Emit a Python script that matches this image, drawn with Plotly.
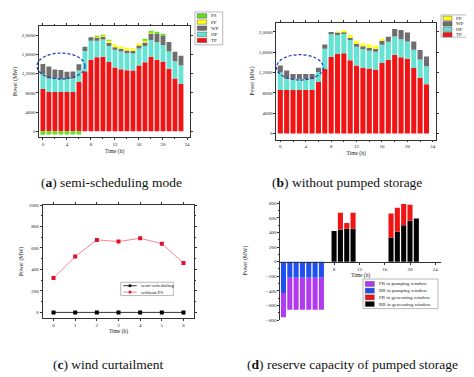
import plotly.graph_objects as go

W, H = 474, 377
OFF = 8  # page body margin in the browser
FW, FH = W - OFF, H - OFF

# ---------------- data ----------------
hours = list(range(24))

# (a) semi-scheduling mode (MW)
a_TP = [8800, 8200, 8200, 8200, 8200, 8200, 10250, 12500, 14900, 15400, 15500, 14400,
        13300, 12900, 12700, 12650, 13700, 14350, 15450, 14900, 14500, 13000, 11000, 9850]
a_HP = [3000, 2800, 2800, 2700, 2700, 2800, 2400, 4200, 3950, 3450, 3600, 3350,
        3650, 3700, 3550, 3550, 3550, 3400, 3550, 3600, 3450, 3600, 3550, 3850]
a_WP = [2200, 2500, 1850, 1850, 1500, 1450, 1300, 900, 700, 700, 600, 600,
        550, 550, 550, 550, 650, 700, 1400, 1800, 2000, 2000, 2000, 2000]
a_PP = [0, 0, 0, 0, 0, 0, 0, 0, 0, 150, 200, 500,
        600, 550, 600, 600, 400, 500, 200, 0, 0, 0, 0, 0]
a_PS = [-700, -650, -650, -650, -650, -650, -650, 0, 0, 150, 150, 150,
        0, 0, 0, 0, 0, 100, 300, 350, 200, 0, 0, 0]

# (b) without pumped storage (MW)
b_TP = [8600, 8600, 8600, 8600, 8600, 8600, 10150, 12700, 15050, 15700, 15800, 14400,
        13400, 12900, 12800, 12600, 13900, 14500, 15500, 15000, 14700, 12900, 11000, 9700]
b_HP = [3400, 2200, 2100, 2100, 2100, 2100, 1950, 4000, 4500, 3700, 3800, 4000,
        3700, 3700, 3500, 3500, 3550, 3550, 3570, 3550, 3400, 3590, 3550, 3550]
b_WP = [1400, 1600, 1000, 1000, 1000, 1000, 850, 800, 450, 500, 400, 400,
        500, 600, 600, 600, 800, 1000, 1500, 1800, 1800, 1600, 1900, 1900]
b_PP = [0, 0, 0, 0, 0, 0, 0, 0, 0, 100, 300, 600,
        600, 500, 600, 600, 400, 0, 0, 0, 0, 0, 0, 0]

power_ticks = [0, 4000, 8000, 12000, 16000, 20000]
power_tick_text = ["0", "4000", "8000", "1,2000", "1,6000", "2,0000"]
hour_ticks = [0, 4, 8, 12, 16, 20, 24]

# (c) wind curtailment (MW)
c_time = [0, 1, 2, 3, 4, 5, 6]
c_semi = [0, 0, 0, 0, 0, 0, 0]
c_without = [320, 520, 675, 660, 690, 640, 460]

# (d) reserve capacity of pumped storage (MW)
d_pump_hours = [0, 1, 2, 3, 4, 5, 6]
d_pump_RR = [-430, -220, -220, -220, -220, -220, -220]
d_pump_FR = [-330, -440, -440, -440, -440, -440, -440]
d_gen_hours = [8, 9, 10, 11, 17, 18, 19, 20, 21]
d_gen_RR = [420, 440, 450, 450, 330, 410, 500, 560, 590]
d_gen_FR = [0, 230, 80, 220, 330, 330, 290, 220, 0]

# ---------------- styles ----------------
C_TP, C_HP, C_WP, C_PP, C_PS = "#F01414", "#66E3D3", "#6E6E6E", "#FFFF1A", "#66DD22"
C_FRP, C_RRP, C_FRG, C_RRG = "#B23AEE", "#2050F0", "#F01414", "#000000"
SERIF = "Liberation Serif"


def px(x):
    return (x - OFF) / FW


def py(y):
    return 1 - (y - OFF) / FH


fig = go.Figure()


def bar(x, y, name, color, xa, ya):
    fig.add_trace(go.Bar(x=x, y=y, name=name, marker=dict(color=color, line=dict(width=0)),
                         xaxis=xa, yaxis=ya, showlegend=False))


for vals, nm, col in [(a_TP, "TP", C_TP), (a_HP, "HP", C_HP), (a_WP, "WP", C_WP),
                      (a_PP, "PP", C_PP), (a_PS, "PS", C_PS)]:
    bar(hours, vals, nm, col, "x", "y")

for vals, nm, col in [(b_TP, "TP", C_TP), (b_HP, "HP", C_HP), (b_WP, "WP", C_WP),
                      (b_PP, "PP", C_PP)]:
    bar(hours, vals, nm, col, "x2", "y2")

fig.add_trace(go.Scatter(x=c_time, y=c_semi, mode="lines+markers", name="semi-scheduling",
                         line=dict(color="#000000", width=0.8),
                         marker=dict(symbol="square", size=4, color="#000000"),
                         xaxis="x3", yaxis="y3", showlegend=False))
fig.add_trace(go.Scatter(x=c_time, y=c_without, mode="lines+markers", name="without PS",
                         line=dict(color="#F06878", width=0.8),
                         marker=dict(symbol="square", size=4, color="#E0102A"),
                         xaxis="x3", yaxis="y3", showlegend=False))

bar(d_pump_hours, d_pump_RR, "RR in pumping window", C_RRP, "x4", "y4")
bar(d_pump_hours, d_pump_FR, "FR in pumping window", C_FRP, "x4", "y4")
bar(d_gen_hours, d_gen_RR, "RR in generating window", C_RRG, "x4", "y4")
bar(d_gen_hours, d_gen_FR, "FR in generating window", C_FRG, "x4", "y4")

tickfont = dict(family=SERIF, size=5, color="#222")
titlefont = dict(family=SERIF, size=5.5, color="#222")


def boxaxis(domain, rng, **kw):
    d = dict(domain=domain, range=rng, showline=True, linecolor="#333", linewidth=0.8,
             mirror="ticks", ticks="outside", ticklen=2, tickwidth=0.6, tickcolor="#333",
             showgrid=False, zeroline=False, tickfont=tickfont)
    d.update(kw)
    return d


yd0 = -800
yd1 = 830
d_top, d_bot = 201.7, 322.3
zero_px = d_top + (d_bot - d_top) * (yd1 - 0) / (yd1 - yd0)

fig.update_layout(
    width=FW, height=FH, margin=dict(l=0, r=0, t=0, b=0),
    paper_bgcolor="white", plot_bgcolor="white",
    barmode="relative", bargap=0.2, showlegend=False,
    xaxis=boxaxis([px(39.3), px(190)], [-0.6, 24.5], tickvals=hour_ticks, anchor="y",
                  title=dict(text="Time (h)", font=titlefont, standoff=2),
                  minor=dict(ticks="outside", ticklen=1.2, dtick=2, tickcolor="#333")),
    yaxis=boxaxis([py(137), py(24)], [-1230, 21950], tickvals=power_ticks,
                  ticktext=power_tick_text, anchor="x",
                  title=dict(text="Power (MW)", font=titlefont, standoff=3)),
    xaxis2=boxaxis([px(276.3), px(436)], [-0.63, 24.5], tickvals=hour_ticks, anchor="y2",
                   title=dict(text="Time (h)", font=titlefont, standoff=2),
                   minor=dict(ticks="outside", ticklen=1.2, dtick=2, tickcolor="#333")),
    yaxis2=boxaxis([py(139.3), py(20.7)], [-1160, 21840], tickvals=power_ticks,
                   ticktext=power_tick_text, anchor="x2",
                   title=dict(text="Power (MW)", font=titlefont, standoff=3)),
    xaxis3=boxaxis([px(42.7), px(194.3)], [-0.5, 6.5], tickvals=c_time, anchor="y3",
                   title=dict(text="Time (h)", font=titlefont, standoff=2)),
    yaxis3=boxaxis([py(320), py(205.7)], [-50, 1000], tickvals=[0, 200, 400, 600, 800, 1000],
                   anchor="x3", title=dict(text="Power (MW)", font=titlefont, standoff=4),
                   minor=dict(ticks="outside", ticklen=1.2, dtick=100, tickcolor="#333")),
    xaxis4=dict(domain=[px(280.3), px(441)], range=[-0.5, 24.9], anchor="free",
                position=py(zero_px), showline=True, linecolor="#333", linewidth=0.8,
                ticks="outside", ticklen=2, tickwidth=0.6, tickcolor="#333",
                tickvals=[8, 12, 16, 20, 24], showgrid=False, zeroline=False,
                tickfont=tickfont, title=dict(text="Time (h)", font=titlefont, standoff=1)),
    yaxis4=dict(domain=[py(d_bot), py(d_top)], range=[yd0, yd1], anchor="x4",
                showline=True, linecolor="#333", linewidth=0.8, ticks="outside", ticklen=2,
                tickwidth=0.6, tickcolor="#333", showgrid=False, zeroline=False,
                tickvals=[-800, -600, -400, -200, 0, 200, 400, 600, 800], tickfont=tickfont,
                minor=dict(ticks="outside", ticklen=1.2, dtick=100, tickcolor="#333"),
                title=dict(text="Power (MW)", font=titlefont, standoff=18)),
)

shapes = []
annots = []

# dashed ellipses
for (x0, x1, y0, y1) in [(37, 85, 51.7, 78), (276.5, 323.3, 53.3, 79)]:
    shapes.append(dict(type="circle", xref="paper", yref="paper", x0=px(x0), x1=px(x1),
                       y0=py(y1), y1=py(y0), layer="above",
                       line=dict(color="#1A3DB8", width=1.2, dash="3px,2px")))


def legend_box(x0, x1, y0, y1):
    shapes.append(dict(type="rect", xref="paper", yref="paper", x0=px(x0), x1=px(x1),
                       y0=py(y1), y1=py(y0), line=dict(color="#888", width=0.6),
                       fillcolor="white"))


def swatch_legend(labels, colors, xs0, xs1, xt, rows, sh):
    for lab, col, ry in zip(labels, colors, rows):
        shapes.append(dict(type="rect", xref="paper", yref="paper", x0=px(xs0), x1=px(xs1),
                           y0=py(ry + sh / 2), y1=py(ry - sh / 2), fillcolor=col,
                           line=dict(color="#333", width=0.4)))
        annots.append(dict(text=lab, x=px(xt), y=py(ry), xref="paper", yref="paper",
                           xanchor="left", yanchor="middle", showarrow=False,
                           font=dict(family=SERIF, size=5, color="#222")))


# legend (a)
legend_box(195, 222.7, 10, 43.3)
swatch_legend(["PS", "PP", "WP", "HP", "TP"], [C_PS, C_PP, C_WP, C_HP, C_TP],
              197.3, 206.7, 208.5, [14, 20.2, 26.4, 32.6, 38.8], 4.4)
# legend (b)
legend_box(441, 467, 13, 35.5)
swatch_legend(["PP", "WP", "HP", "TP"], [C_PP, C_WP, C_HP, C_TP],
              443, 452, 454, [16.5, 22, 27.5, 33], 4.4)
# legend (c)
legend_box(120.7, 173.3, 284, 297.5)
for lab, lc, mc, ry in [("semi-scheduling", "#000000", "#000000", 287.5),
                        ("without PS", "#F06878", "#E0102A", 294)]:
    shapes.append(dict(type="line", xref="paper", yref="paper", x0=px(123.3), x1=px(136.7),
                       y0=py(ry), y1=py(ry), line=dict(color=lc, width=0.8)))
    shapes.append(dict(type="rect", xref="paper", yref="paper", x0=px(128.7), x1=px(131.3),
                       y0=py(ry + 1.3), y1=py(ry - 1.3), fillcolor=mc, line=dict(width=0)))
    annots.append(dict(text=lab, x=px(138.5), y=py(ry), xref="paper", yref="paper",
                       xanchor="left", yanchor="middle", showarrow=False,
                       font=dict(family=SERIF, size=5, color="#222")))
# legend (d)
legend_box(363, 438, 280.7, 310.7)
swatch_legend(["FR in pumping window", "RR in pumping window", "FR in generating window",
               "RR in generating window"], [C_FRP, C_RRP, C_FRG, C_RRG],
              365.3, 374.3, 377, [285.7, 292.5, 299.3, 306.1], 5)

# captions
for txt, xc, yc in [("(<b>a</b>) semi-scheduling mode", 111, 183),
                    ("(<b>b</b>) without pumped storage", 347, 183),
                    ("(<b>c</b>) wind curtailment", 108, 367),
                    ("(<b>d</b>) reserve capacity of pumped storage", 352, 367)]:
    annots.append(dict(text=txt, x=px(xc), y=py(yc), xref="paper", yref="paper",
                       xanchor="center", yanchor="middle", showarrow=False,
                       font=dict(family=SERIF, size=13.5, color="#111")))

fig.update_layout(shapes=shapes, annotations=annots)
fig.write_html("out.html")
